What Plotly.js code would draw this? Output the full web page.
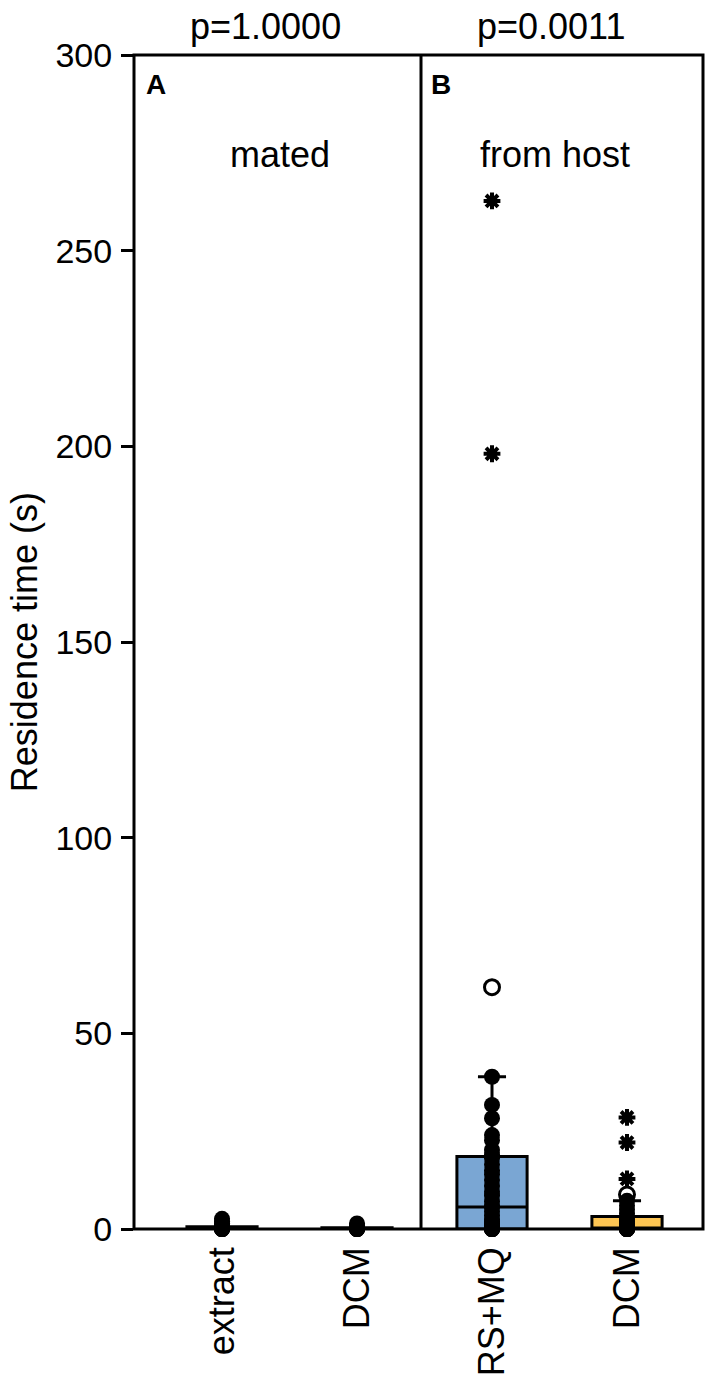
<!DOCTYPE html>
<html>
<head>
<meta charset="utf-8">
<script src="https://cdn.plot.ly/plotly-3.0.1.min.js"></script>
<style>
  body { margin: 0; background: #fff; }
  #chart { width: 712px; height: 1379px; }
</style>
</head>
<body>
<div id="chart"></div>
<script>
// 类别与数据
const categories = ['extract', 'DCM', 'RS+MQ', 'DCM'];
const panelTitles = ['mated', 'from host'];
const panelLetters = ['A', 'B'];
const pValues = ['p=1.0000', 'p=0.0011'];

// 箱线统计 (q1, median, q3, upper whisker)
const q1Values = [0, 0, 0, 0];
const medianValues = [0, 0, 5.6, 0];
const q3Values = [0.6, 0.3, 18.5, 3.2];
const upperValues = [0.6, 0.3, 38.9, 7.2];

// 散点 (逐个读取的估计值)
const pointsExtract = [0, 0, 0, 0, 0, 0.3, 0.6, 1.0, 1.5, 2.0, 2.6];
const pointsDcmA = [0, 0, 0, 0, 0, 0.2, 0.5, 0.9, 1.4];
const pointsRsMq = [0, 0, 0, 0, 0, 0, 0.5, 1, 1.5, 2, 2.5, 3.5, 4.5, 5.5, 6, 7, 8.5, 9.5,
  11, 12.5, 14, 15, 16.5, 18, 19, 20.2, 22.7, 24, 28.3, 31.7, 38.9];
const pointsDcmB = [0, 0, 0, 0, 0, 0, 0, 0, 0.5, 1, 1.5, 2, 2.5, 3, 4, 5, 6, 7.2];

// 离群值
const openOutliersRsMq = [61.8];
const openOutliersDcmB = [8.8];
const starOutliersRsMq = [198.1, 262.7];
const starOutliersDcmB = [12.8, 22.1, 28.5];

const boxColors = ['#ffffff', '#ffffff', '#7aa6d3', '#fdc553'];
const font = 'Liberation Sans, Arial, sans-serif';

const traces = [];

// 箱体
categories.forEach((c, i) => {
    traces.push({
        type: 'box',
        x: [i],
        q1: [q1Values[i]],
        median: [medianValues[i]],
        q3: [q3Values[i]],
        lowerfence: [q1Values[i]],
        upperfence: [upperValues[i]],
        width: 0.52,
        whiskerwidth: 0.4,
        fillcolor: boxColors[i],
        line: { color: '#000', width: 3 },
        boxpoints: false,
        hoverinfo: 'skip',
        showlegend: false
    });
});

// 实心点
const pointSets = [pointsExtract, pointsDcmA, pointsRsMq, pointsDcmB];
pointSets.forEach((pts, i) => {
    traces.push({
        type: 'scatter',
        mode: 'markers',
        x: pts.map(() => i),
        y: pts,
        marker: { color: '#000', size: 16, symbol: 'circle' },
        cliponaxis: false,
        showlegend: false
    });
});

// 空心圆离群值
traces.push({
    type: 'scatter',
    mode: 'markers',
    x: openOutliersRsMq.map(() => 2).concat(openOutliersDcmB.map(() => 3)),
    y: openOutliersRsMq.concat(openOutliersDcmB),
    marker: { color: '#000', size: 15, symbol: 'circle-open', line: { width: 3, color: '#000' } },
    showlegend: false
});

// 星号极端值
traces.push({
    type: 'scatter',
    mode: 'markers',
    x: starOutliersRsMq.map(() => 2).concat(starOutliersDcmB.map(() => 3)),
    y: starOutliersRsMq.concat(starOutliersDcmB),
    marker: { color: '#000', size: 14, symbol: 'asterisk-open', line: { width: 4, color: '#000' } },
    showlegend: false
});

const divider = 1.474;

const layout = {
    width: 712,
    height: 1379,
    margin: { l: 134, r: 9, t: 55, b: 150 },
    paper_bgcolor: '#fff',
    plot_bgcolor: '#fff',
    font: { family: font, size: 36, color: '#000' },
    xaxis: {
        range: [-0.652, 3.563],
        tickvals: [0, 1, 2, 3],
        ticktext: categories,
        tickangle: -90,
        ticks: '',
        ticklabelstandoff: 10,
        showgrid: false,
        zeroline: false,
        showline: false,
        tickfont: { family: font, size: 36, color: '#000' }
    },
    yaxis: {
        range: [0, 300],
        tickvals: [0, 50, 100, 150, 200, 250, 300],
        ticks: 'outside',
        ticklen: 12,
        tickwidth: 3,
        tickcolor: '#000',
        ticklabelstandoff: 2,
        showgrid: false,
        zeroline: false,
        showline: false,
        tickfont: { family: font, size: 34, color: '#000' }
    },
    shapes: [
        {
            type: 'rect', xref: 'paper', yref: 'paper',
            x0: 0, x1: 1, y0: 0, y1: 1,
            line: { color: '#000', width: 3 }
        },
        {
            type: 'line', xref: 'x', yref: 'paper',
            x0: divider, x1: divider, y0: 0, y1: 1,
            line: { color: '#000', width: 3 }
        }
    ],
    annotations: [
        {
            text: 'Residence time (s)', textangle: -90,
            xref: 'paper', yref: 'paper', x: -0.193, y: 0.5,
            xanchor: 'center', yanchor: 'middle', showarrow: false,
            font: { family: font, size: 36, color: '#000' }
        },
        {
            text: pValues[0], xref: 'x', yref: 'paper', x: 0.32, y: 1.024,
            xanchor: 'center', yanchor: 'middle', showarrow: false
        },
        {
            text: pValues[1], xref: 'x', yref: 'paper', x: 2.44, y: 1.024,
            xanchor: 'center', yanchor: 'middle', showarrow: false
        },
        {
            text: panelTitles[0], xref: 'x', yref: 'y', x: 0.43, y: 274.5,
            xanchor: 'center', yanchor: 'middle', showarrow: false
        },
        {
            text: panelTitles[1], xref: 'x', yref: 'y', x: 2.47, y: 274.5,
            xanchor: 'center', yanchor: 'middle', showarrow: false
        },
        {
            text: '<b>' + panelLetters[0] + '</b>', xref: 'x', yref: 'y', x: -0.58, y: 292.5,
            xanchor: 'left', yanchor: 'middle', showarrow: false,
            font: { family: font, size: 28, color: '#000' }
        },
        {
            text: '<b>' + panelLetters[1] + '</b>', xref: 'x', yref: 'y', x: 1.53, y: 292.5,
            xanchor: 'left', yanchor: 'middle', showarrow: false,
            font: { family: font, size: 28, color: '#000' }
        }
    ]
};

Plotly.newPlot('chart', traces, layout, { displayModeBar: false, staticPlot: true });
</script>
</body>
</html>
